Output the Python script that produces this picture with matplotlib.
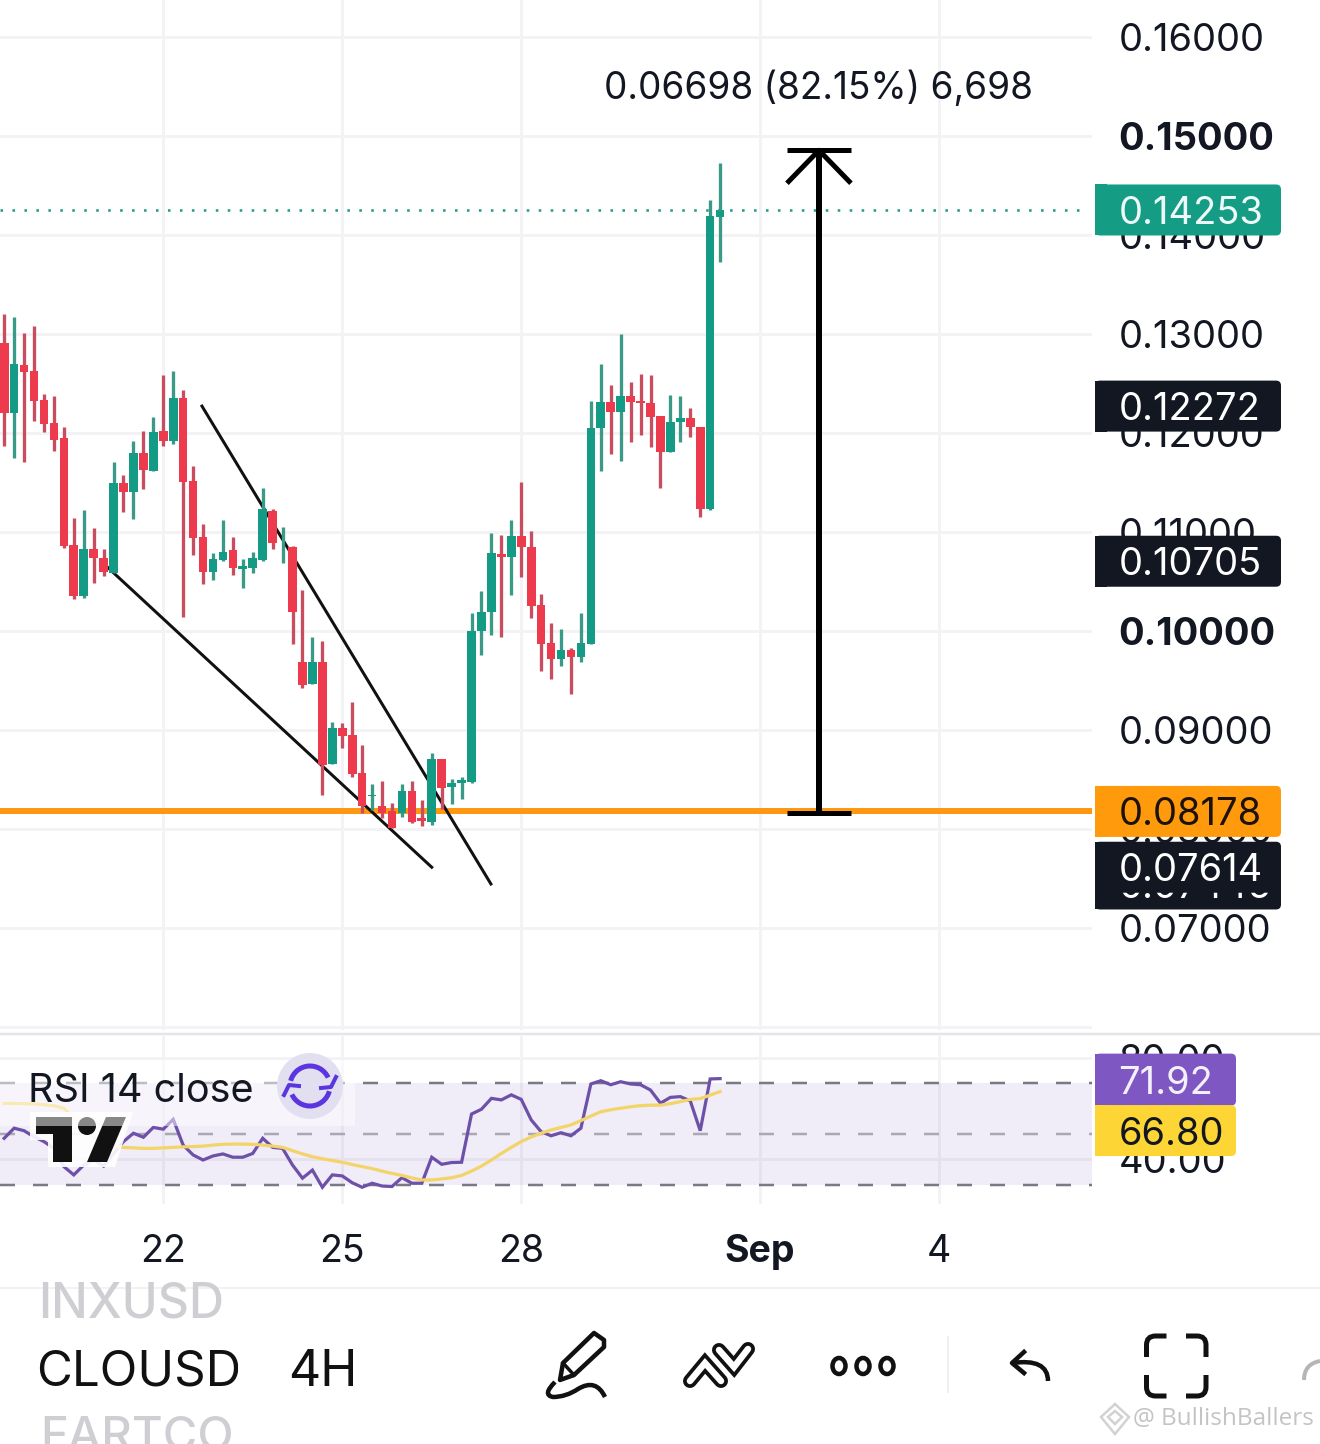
#!/usr/bin/env python3
# 4H chart screenshot: candles, falling wedge, measured move, RSI pane and app toolbar
import matplotlib
matplotlib.use('Agg')
import matplotlib.pyplot as plt
from matplotlib.patches import Rectangle, Circle, Polygon, FancyBboxPatch, Ellipse, Arc, PathPatch
from matplotlib.path import Path

plt.rcParams['font.family'] = ['Inter', 'DejaVu Sans']

W, H = 1320, 1444

# candles, one every 4 hours, index 0 is the 22nd
first_bar = -16
opens = [.12909, .12202, .12687, .12626, .12333, .12101, .11949, .10869, .10354, .10828, .10737, .10586, .11495, .11404, .11798, .11616,
         .12020, .11919, .12354, .11515, .10949, .10596, .10717, .10818, .10626, .10636, .10717, .11212, .10899, .10848, .09687, .09465,
         .09687, .08657, .09020, .08949, .08566, .08333, .08232, .08183, .08162, .08384, .08111, .08071, .08707, .08424, .08465,
         .08475, .10000, .10192, .10778, .10747, .10960, .10848, .10263, .09879, .09717, .09808, .09737, .09869, .12051, .12313, .12212,
         .12374, .12323, .12303, .12172, .11808, .12111, .12152, .12061, .11232, .14182]
highs = [.13202, .13172, .13010, .13081, .12394, .12374, .12061, .11141, .11222, .11040, .10828, .11707, .11576, .11919, .12020, .12162,
         .12586, .12626, .12434, .11667, .11081, .10788, .11121, .10949, .10727, .10798, .11444, .11232, .11051, .10859, .10414, .09939,
         .09899, .09081, .09071, .09283, .08848, .08455, .08485, .08263, .08455, .08485, .08293, .08768, .08707, .08505, .08525,
         .10182, .10404, .10990, .10970, .11121, .11505, .11010, .10374, .10081, .10020, .09828, .10182, .12323, .12697, .12485, .13000,
         .12515, .12596, .12586, .12172, .12384, .12374, .12253, .12061, .14354, .14727]
lows = [.11869, .11747, .11707, .12121, .12010, .11818, .10838, .10323, .10333, .10485, .10556, .10586, .11202, .11131, .11434, .11616,
        .11869, .11889, .10141, .10768, .10475, .10515, .10707, .10566, .10434, .10586, .10707, .10828, .10687, .09869, .09424, .09465,
        .08343, .08657, .08818, .08525, .08162, .08192, .08111, .08010, .08121, .08061, .08030, .08040, .08202, .08253, .08303,
        .08465, .09758, .09960, .09939, .10364, .10546, .10131, .09596, .09515, .09646, .09364, .09687, .09869, .11616, .11788, .11717,
        .11909, .11980, .11859, .11444, .11808, .11909, .11960, .11152, .11222, .13727]
closes = [.12202, .12697, .12616, .12323, .12091, .11929, .10859, .10354, .10828, .10737, .10596, .11495, .11404, .11798, .11626, .12010,
          .11919, .12354, .11505, .10939, .10596, .10727, .10798, .10636, .10657, .10737, .11232, .10889, .10899, .10192, .09455, .09687,
          .08646, .09020, .08939, .08556, .08232, .08343, .08162, .08010, .08384, .08071, .08081, .08707, .08414, .08465, .08495,
          .10000, .10192, .10788, .10747, .10960, .10848, .10253, .09869, .09717, .09808, .09737, .09879, .12051, .12313, .12212, .12374,
          .12313, .12303, .12162, .11808, .12111, .12152, .12061, .11232, .14192, .14253]

# RSI and its moving average, same bars
rsi = [48.3, 52.3, 51.3, 48.9, 47.0, 44.3, 37.1, 33.8, 37.7, 39.7, 37.3, 42.3, 47.0, 50.3, 48.7, 52.6,
       51.9, 55.8, 45.6, 41.7, 39.7, 41.3, 42.1, 40.8, 40.8, 42.3, 48.3, 44.7, 44.3, 37.7, 32.5, 35.7,
       28.9, 33.8, 33.4, 30.7, 28.9, 30.5, 29.4, 29.2, 32.7, 30.5, 30.5, 40.8, 38.0, 38.7, 38.8, 57.9,
       59.8, 64.1, 63.5, 65.5, 63.7, 55.6, 50.9, 49.3, 50.5, 49.3, 52.3, 69.8, 71.1, 69.5, 70.7, 69.8,
       69.5, 67.4, 62.2, 64.5, 64.8, 63.1, 51.3, 71.8, 71.92]
rsi_ma = [62.1, 62.1, 62.0, 61.9, 61.6, 61.2, 60.2, 56.2, 52.3, 48.9, 46.3, 45.2, 44.7, 44.5, 44.3, 44.3,
          44.5, 44.7, 44.9, 45.0, 45.2, 45.6, 45.9, 46.0, 46.0, 45.9, 45.6, 45.2, 44.7, 43.4, 42.1, 41.0,
          40.2, 39.5, 38.8, 37.9, 37.1, 36.3, 35.3, 34.4, 33.6, 32.6, 31.8, 31.8, 32.2, 32.7, 33.6, 35.3,
          37.3, 39.7, 42.3, 44.7, 47.0, 48.8, 50.3, 51.6, 52.6, 53.6, 55.3, 57.1, 58.8, 59.6, 60.2, 60.8,
          61.2, 61.4, 61.4, 62.0, 62.8, 63.7, 64.0, 65.4, 66.8]

# axis labels
date_pos = [0, 18, 36, 60, 78]
date_labels = ['22', '25', '28', 'Sep', '4']
price_ticks = [.06, .07, .08, .09, .10, .11, .12, .13, .14, .15, .16]
rsi_ticks = [40, 80]

# drawn objects
support = 0.08178
last_price = 0.14253
wedge_upper_x = [3.89, 32.95]
wedge_upper_y = [0.12272, 0.07445]
wedge_lower_x = [-6.26, 27.0]
wedge_lower_y = [0.10705, 0.07614]
measure_x = 65.94
measure_top = 0.14856
measure_bottom = 0.08160

# badges: value, colour, text colour
price_badges = [(0.14253, '#149c85', '#eef8f6'), (0.12272, '#131722', 'white'), (0.10705, '#131722', 'white'),
                (0.08178, '#ff9a0d', '#1c1208'), (0.07445, '#131722', 'white'), (0.07614, '#131722', 'white')]

GREEN, GREEN_W = '#139b85', '#3a9a87'
RED, RED_W = '#ee3a4d', '#c94d5f'
GRID = '#f3f3f5'
TXT = '#131722'
FS = 27.4

fig = plt.figure(figsize=(W / 100, H / 100), dpi=100, facecolor='white')

def axes_px(left, top, right, bottom):
    return fig.add_axes([left / W, 1 - bottom / H, (right - left) / W, (bottom - top) / H])

def px(v):
    # pixels to points
    return v * 0.72

ax = axes_px(0, 0, 1092, 1030)
ax.set_xlim(-16.42, 93.4)
ax.set_ylim(0.05970, 0.16374)
ax2 = axes_px(0, 1036, 1092, 1204)
ax2.set_xlim(-16.42, 93.4)
ax2.set_ylim(22.28, 88.8)

for a in (ax, ax2):
    for s in a.spines.values():
        s.set_visible(False)
    a.set_xticks(date_pos)
    a.grid(True, color=GRID, lw=px(3))
    a.set_axisbelow(True)
    a.yaxis.tick_right()
    a.tick_params(length=0)

ax.set_xticklabels([])
ax.set_yticks(price_ticks)
labs = ['' if t == .06 else '%.5f' % t for t in price_ticks]
ax.set_yticklabels(labs, fontsize=FS, color=TXT)
ax.tick_params(axis='y', pad=px(26.5))
for t, lab in zip(price_ticks, ax.get_yticklabels()):
    if t in (.10, .15):
        lab.set_fontweight('bold')

# candles
bars = list(range(first_bar, first_bar + len(closes)))
for i, o, h, l, c in zip(bars, opens, highs, lows, closes):
    up = c >= o
    ax.vlines(i, l, h, color=GREEN_W if up else RED_W, lw=px(3.3), zorder=4)
    ax.bar(i, abs(c - o), bottom=min(o, c), width=0.87, color=GREEN if up else RED, zorder=5)

ax.axhline(support, color='#ff9810', lw=px(6), zorder=3)
ax.plot(wedge_upper_x, wedge_upper_y, color='#111111', lw=px(3), zorder=3.5)
ax.plot(wedge_lower_x, wedge_lower_y, color='#111111', lw=px(3), zorder=3.5)
ax.plot([-16.42, 92.7], [last_price, last_price], color='#2f9a89', lw=px(2.6), ls=(0, (1, 3.6)), zorder=6)

# measured move
ax.plot([measure_x, measure_x], [measure_bottom, measure_top], color='black', lw=px(6), zorder=6, solid_capstyle='butt')
ax.plot([measure_x - 3.22, measure_x + 3.22], [measure_bottom, measure_bottom], color='black', lw=px(5), zorder=6, solid_capstyle='butt')
ax.plot([measure_x - 3.22, measure_x + 3.22], [measure_top, measure_top], color='black', lw=px(5), zorder=6, solid_capstyle='butt')
ax.plot([measure_x - 3.22, measure_x, measure_x + 3.22], [measure_top - .00333, measure_top, measure_top - .00333],
        color='black', lw=px(5), zorder=6, solid_capstyle='butt')
ax.text(measure_x, 0.15475, '0.06698 (82.15%) 6,698', ha='center', va='center', fontsize=26.6, color=TXT, zorder=7)

# RSI pane
ax2.set_xticklabels(date_labels, fontsize=27, color=TXT)
ax2.get_xticklabels()[3].set_fontweight('bold')
ax2.tick_params(axis='x', pad=px(30))
ax2.set_yticks(rsi_ticks)
ax2.set_yticklabels(['%.2f' % t for t in rsi_ticks], fontsize=FS, color=TXT)
ax2.tick_params(axis='y', pad=px(26.5))
ax2.axhspan(30, 70, color='#7e57c2', alpha=0.11, lw=0, zorder=1)
for lev, col in ((70, '#787b86'), (50, '#a9a8b4'), (30, '#787b86')):
    ax2.axhline(lev, color=col, lw=px(2.5), ls=(0, (6, 7.2)), zorder=2)
ax2.plot(bars, rsi, color='#6d50a8', lw=px(3.2), zorder=3, solid_joinstyle='miter')
ax2.plot(bars, rsi_ma, color='#f3d468', lw=px(3.2), zorder=4)

# everything on top goes in a pixel overlay
ov = fig.add_axes([0, 0, 1, 1], zorder=10, facecolor='none')
ov.set_xlim(0, W)
ov.set_ylim(H, 0)
ov.axis('off')

def price_y(a, v):
    return H - a.transData.transform((0, v))[1]

def badge(yc, height, right, color, label, tcolor):
    top = yc - height / 2
    ov.add_patch(FancyBboxPatch((1100, top + 5), right - 1105, height - 10, boxstyle='round,pad=5,rounding_size=5',
                                fc=color, ec='none', zorder=3))
    ov.add_patch(Rectangle((1095, top), 12, height, fc=color, ec='none', zorder=3))
    ov.text(1118.5, yc, label, fontsize=FS, color=tcolor, va='center_baseline', ha='left', zorder=3)

for val, col, tcol in price_badges:
    badge(price_y(ax, val), 51, 1281, col, '%.5f' % val, tcol)
badge(price_y(ax2, rsi[-1]) + 1, 52, 1236, '#7e57c2', '%.2f' % rsi[-1], '#f4f0fb')
badge(price_y(ax2, rsi_ma[-1]) + 39, 51, 1236, '#fdd535', '%.2f' % rsi_ma[-1], TXT)

# separators
ov.plot([0, W], [1034, 1034], color='#e4e5e8', lw=px(2.5))
ov.plot([0, W], [1288, 1288], color='#f2f2f3', lw=px(2))
ov.plot([947.5, 947.5], [1337, 1392], color='#efefef', lw=px(2))

# logo under a washed out header strip
ov.add_patch(Polygon([(30, 1112), (133, 1112), (115, 1167), (48, 1167), (48, 1140), (30, 1140)], fc='white', ec='none', alpha=.9, zorder=1))
ov.add_patch(Polygon([(36, 1117), (72, 1117), (72, 1162), (53, 1162), (53, 1134), (36, 1134)], fc='#111111', ec='none', zorder=1.2))
ov.add_patch(Circle((87, 1126), 9, fc='#111111', ec='none', zorder=1.2))
ov.add_patch(Polygon([(106, 1117), (126, 1117), (107, 1162), (87, 1162)], fc='#111111', ec='none', zorder=1.2))
ov.add_patch(Rectangle((0, 1060), 355, 65.5, fc='white', ec='none', alpha=.5, zorder=1.5))
ov.text(28, 1091, 'RSI 14 close', fontsize=28.5, color=TXT, va='center', ha='left', zorder=2)
ov.add_patch(Circle((310, 1086), 33, fc='#e2dff0', ec='none', zorder=2))
ov.add_patch(Arc((310, 1086), 40, 40, theta1=195, theta2=335, color='#5b35e0', lw=px(5), zorder=2.1))
ov.add_patch(Arc((310, 1086), 40, 40, theta1=15, theta2=155, color='#5b35e0', lw=px(5), zorder=2.1))
ov.plot([321, 331, 336], [1088, 1087, 1077], color='#5b35e0', lw=px(4), zorder=2.2)
ov.plot([284, 289, 299], [1095, 1085, 1086], color='#5b35e0', lw=px(4), zorder=2.2)

# toolbar
ticker_clip = Rectangle((0, 1290), 236, 154, transform=ov.transData)
t1 = ov.text(38, 1304, 'INXUSD', fontsize=35, fontweight='medium', color='#cfcfd3', va='center')
t1.set_clip_path(ticker_clip)
ov.text(36, 1372, 'CLOUSD', fontsize=35.5, color='#111111', va='center')
ov.text(288, 1372, '4H', fontsize=36, color='#111111', va='center')
t2 = ov.text(40, 1438, 'FARTCO', fontsize=34, fontweight='medium', color='#cfcfd3', va='center')
t2.set_clip_path(ticker_clip)
ov.add_patch(Rectangle((238, 1340), 46, 60, fc='white', ec='none', alpha=.9, zorder=3))

ink = '#111111'
ov.add_patch(Polygon([(560, 1380), (563, 1363), (594, 1333), (604, 1340), (604, 1347), (574, 1375)], fc='none', ec=ink, lw=px(4.5), joinstyle='round'))
ov.plot([563, 574], [1363, 1375], color=ink, lw=px(3.5))
ov.add_patch(PathPatch(Path([(555, 1382), (542, 1395), (553, 1397), (566, 1397), (578, 1389), (596, 1378), (605, 1397)],
                            [Path.MOVETO] + [Path.CURVE3] * 6),
                       fc='none', ec=ink, lw=px(4.5)))
for xs, ys in (([690, 705, 721], [1381, 1363, 1381]), ([719, 734, 748], [1350, 1367, 1349])):
    ov.plot(xs, ys, color=ink, lw=px(14), solid_capstyle='round', solid_joinstyle='miter')
    ov.plot(xs, ys, color='white', lw=px(6.5), solid_capstyle='round', solid_joinstyle='miter')
for cx in (839, 863, 887):
    ov.add_patch(Ellipse((cx, 1366), 13, 16, fc='none', ec=ink, lw=px(4.5)))
ov.plot([1024, 1012, 1024], [1352, 1363, 1373], color=ink, lw=px(4.5))
ov.add_patch(PathPatch(Path([(1012, 1363), (1048, 1358), (1048, 1381)], [Path.MOVETO, Path.CURVE3, Path.CURVE3]),
                       fc='none', ec=ink, lw=px(4.5)))
for (x0, y0, sx, sy) in ((1146.5, 1336, 1, 1), (1206, 1336, -1, 1), (1146.5, 1396, 1, -1), (1206, 1396, -1, -1)):
    pts = [(x0 + sx * 20, y0), (x0 + sx * 9, y0), (x0, y0), (x0, y0 + sy * 9), (x0, y0 + sy * 21)]
    ov.add_patch(PathPatch(Path(pts, [Path.MOVETO, Path.LINETO, Path.CURVE3, Path.CURVE3, Path.LINETO]),
                           fc='none', ec=ink, lw=px(5)))
ov.add_patch(PathPatch(Path([(1304, 1380), (1304, 1364), (1320, 1361)], [Path.MOVETO, Path.CURVE3, Path.CURVE3]),
                       fc='none', ec='#b5b5b5', lw=px(4)))

# watermark
ov.add_patch(Polygon([(1115, 1404), (1129, 1417), (1115, 1434), (1101, 1417)], fc='none', ec='#d2d2d2', lw=px(2.5)))
ov.add_patch(Polygon([(1115, 1411), (1122, 1417), (1115, 1424), (1108, 1417)], fc='none', ec='#d2d2d2', lw=px(2.5)))
ov.text(1133, 1419, '@ BullishBallers', fontsize=17.5, color='#c4c4c4', family='Open Sans', va='center')

fig.savefig('out.png', dpi=100)
